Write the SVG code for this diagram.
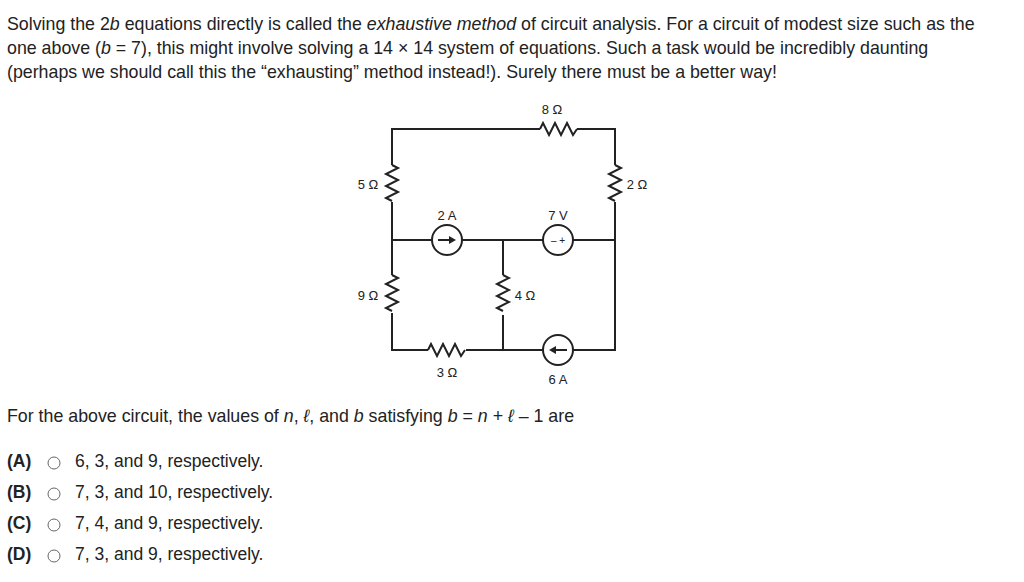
<svg xmlns="http://www.w3.org/2000/svg" width="1024" height="582" viewBox="0 0 1024 582">
<style>
text{font-family:"Liberation Sans",Arial,sans-serif;fill:#222}
.p{font-size:17.8px}
.o{font-size:17.5px}
.l{font-size:13px;text-anchor:middle}
.w{fill:none;stroke:#222;stroke-width:2}
.r{fill:#fff;stroke:#222;stroke-width:2}
.rad{fill:#fff;stroke:#666;stroke-width:1}
.b{font-weight:bold}
</style>
<rect width="1024" height="582" fill="#fff"/>
<text class="p" x="7" y="30">Solving the 2<tspan font-style="italic">b</tspan> equations directly is called the <tspan font-style="italic">exhaustive method</tspan> of circuit analysis. For a circuit of modest size such as the</text>
<text class="p" x="7" y="54">one above (<tspan font-style="italic">b</tspan> = 7), this might involve solving a 14 × 14 system of equations. Such a task would be incredibly daunting</text>
<text class="p" x="7" y="78">(perhaps we should call this the “exhausting” method instead!). Surely there must be a better way!</text>
<g id="connectors">
<path class="w" d="M392 165V129H540M577 129H615V165M615 202V350H573M543 350H503M503 350H466M428 350H392V313M392 275V202M392 240H432M462 240H543M573 240H615M503 240V275M503 315V350"/>
</g>
<g id="r8"><path class="w" d="M540 129l3 -6 6 12 6 -12 6 12 6 -12 6 12 4 -6"/><text class="l" x="552" y="114">8 Ω</text></g>
<g id="r3"><path class="w" d="M428 350l3 -6 6 12 6 -12 6 12 6 -12 6 12 4 -6"/><text class="l" x="447" y="377">3 Ω</text></g>
<g id="r5"><path class="w" d="M392 165l6 3 -12 6 12 6 -12 6 12 6 -12 6 6 3"/><text class="l" x="368" y="189">5 Ω</text></g>
<g id="r9"><path class="w" d="M392 275l6 3 -12 6 12 6 -12 6 12 6 -12 6 6 3"/><text class="l" x="368" y="300">9 Ω</text></g>
<g id="r2"><path class="w" d="M615 165l6 3 -12 6 12 6 -12 6 12 6 -12 6 6 3"/><text class="l" x="637" y="189">2 Ω</text></g>
<g id="r4"><path class="w" d="M503 275l6 3 -12 6 12 6 -12 6 12 6 -12 6 6 3"/><text class="l" x="525" y="300">4 Ω</text></g>
<g id="i2"><circle class="r" cx="447" cy="240" r="15"/><path class="w" d="M438 240H452"/><path d="M456 240l-7 -4v8z" fill="#222"/><text class="l" x="447" y="220">2 A</text></g>
<g id="v7"><circle class="r" cx="558" cy="240" r="15"/><text class="l" x="558" y="244" style="font-size:10px">– +</text><text class="l" x="558" y="220">7 V</text></g>
<g id="i6"><circle class="r" cx="558" cy="350" r="15"/><path class="w" d="M553 350H567"/><path d="M549 350l7 -4v8z" fill="#222"/><text class="l" x="558" y="384">6 A</text></g>
<text class="p" x="7" y="422">For the above circuit, the values of <tspan font-style="italic">n</tspan>, <tspan font-style="italic">ℓ</tspan>, and <tspan font-style="italic">b</tspan> satisfying <tspan font-style="italic">b</tspan> = <tspan font-style="italic">n</tspan> + <tspan font-style="italic">ℓ</tspan> – 1 are</text>
<text class="o b" x="7" y="467">(A)</text><circle class="rad" cx="54" cy="463" r="6"/><text class="o" x="75" y="467">6, 3, and 9, respectively.</text>
<text class="o b" x="7" y="498">(B)</text><circle class="rad" cx="54" cy="494" r="6"/><text class="o" x="75" y="498">7, 3, and 10, respectively.</text>
<text class="o b" x="7" y="529">(C)</text><circle class="rad" cx="54" cy="525" r="6"/><text class="o" x="75" y="529">7, 4, and 9, respectively.</text>
<text class="o b" x="7" y="560">(D)</text><circle class="rad" cx="54" cy="556" r="6"/><text class="o" x="75" y="560">7, 3, and 9, respectively.</text>
</svg>
